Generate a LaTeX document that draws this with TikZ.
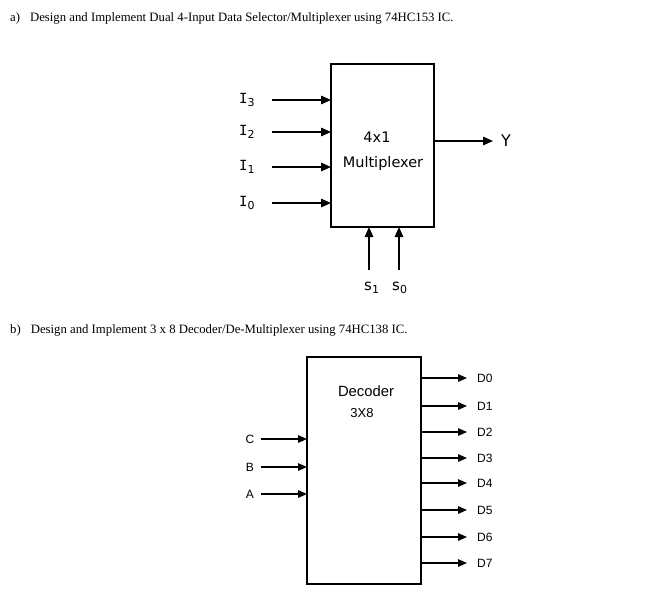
\documentclass[tikz,border=0pt]{standalone}
\usepackage{fontspec}
\setmainfont{Liberation Serif}
\newfontfamily\muxfont{DejaVu Sans}
\newfontfamily\ifont{DejaVu Sans Mono}
\newfontfamily\arialfont{Liberation Sans}
\usetikzlibrary{arrows.meta}
\begin{document}
\begin{tikzpicture}[x=1pt,y=-1pt,
  wire/.style={line width=1.5pt,-{Triangle[length=10pt,width=8.5pt]}},
  dwire/.style={line width=1.3pt,-{Triangle[length=9pt,width=7.5pt]}},
  block/.style={draw,line width=1.5pt,inner sep=0pt},
  title/.style={font=\fontsize{12.75}{15}\selectfont,anchor=west,inner sep=0pt},
  mlab/.style={font=\muxfont\fontsize{14}{16}\selectfont,inner sep=0pt},
  dlab/.style={font=\arialfont\fontsize{12}{14}\selectfont,inner sep=0pt}]
\useasboundingbox (0,0) rectangle (654,600);
% titles
\node[title] (ta) at (10,18) {a)\hspace{10pt}Design and Implement Dual 4-Input Data Selector/Multiplexer using 74HC153 IC.};
\node[title] (tb) at (10,330) {b)\hspace{10pt}Design and Implement 3 x 8 Decoder/De-Multiplexer using 74HC138 IC.};
% multiplexer
\node[block,minimum width=103pt,minimum height=163pt] (mux) at (382.5,145.5) {};
\node[mlab,font=\muxfont\fontsize{14.5}{16}\selectfont] (m1) at (377,137) {4x1};
\node[mlab,font=\muxfont\fontsize{14.5}{16}\selectfont] (m2) at (383,163) {Multiplexer};
\foreach \n/\y in {3/100,2/132,1/167,0/203}{
  \coordinate (is\n) at (272,\y);
  \coordinate (ie\n) at (331,\y);
  \draw[wire] (is\n) -- (ie\n);
  \node[mlab,anchor=west] (il\n) at (239,\y) {{\ifont\fontsize{14}{16}\selectfont I}\raisebox{-3.5pt}{\fontsize{11}{12}\selectfont\n}};
}
\coordinate (ys) at (434,141);
\coordinate (ye) at (493,141);
\draw[wire] (ys) -- (ye);
\node[mlab,anchor=west,font=\muxfont\fontsize{16}{18}\selectfont] (yl) at (501,141) {Y};
\coordinate (s1s) at (369,270);
\coordinate (s1e) at (369,227);
\coordinate (s0s) at (399,270);
\coordinate (s0e) at (399,227);
\draw[wire] (s1s) -- (s1e);
\draw[wire] (s0s) -- (s0e);
\node[mlab,anchor=west,font=\muxfont\fontsize{15}{17}\selectfont] (s1l) at (364,288) {s\raisebox{-3pt}{\fontsize{11}{12}\selectfont 1}};
\node[mlab,anchor=west,font=\muxfont\fontsize{15}{17}\selectfont] (s0l) at (392,288) {s\raisebox{-3pt}{\fontsize{11}{12}\selectfont 0}};
% decoder
\node[block,line width=1.3pt,minimum width=114pt,minimum height=227pt] (dec) at (364,470.5) {};
\node[dlab,font=\arialfont\fontsize{14.8}{17}\selectfont] (d1) at (366,391) {Decoder};
\node[dlab,font=\arialfont\fontsize{13}{15}\selectfont] (d2) at (362,413) {3X8};
\foreach \l/\y in {C/439,B/467,A/494}{
  \coordinate (ds\l) at (261,\y);
  \coordinate (de\l) at (307,\y);
  \draw[dwire] (ds\l) -- (de\l);
  \node[dlab] (dl\l) at (250,\y) {\l};
}
\foreach \n/\y in {0/378,1/406,2/432,3/458,4/483,5/510,6/537,7/563}{
  \coordinate (os\n) at (421,\y);
  \coordinate (oe\n) at (467,\y);
  \draw[dwire] (os\n) -- (oe\n);
  \node[dlab,anchor=west] (ol\n) at (477,\y) {D\n};
}
\end{tikzpicture}
\end{document}
